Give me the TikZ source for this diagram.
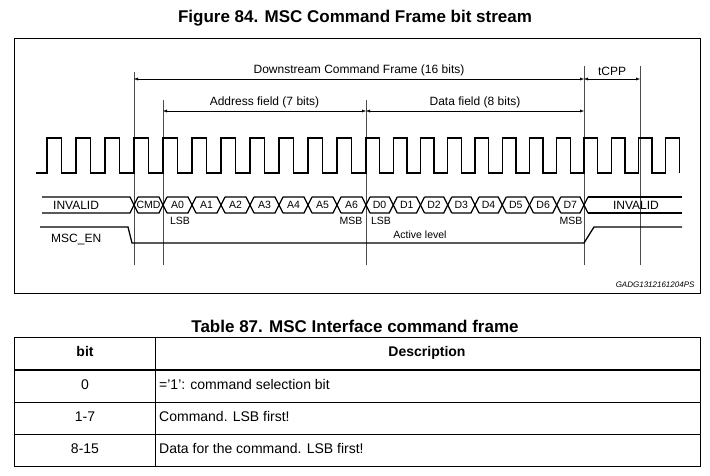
\documentclass[tikz,border=0pt]{standalone}
\usepackage{fontspec}
\setmainfont{Liberation Sans}
\usetikzlibrary{arrows.meta}

\tikzset{
  sig/.style={line width=1.3pt},
  dim/.style={thin,{Latex[length=4pt,width=3pt]}-{Latex[length=4pt,width=3pt]}},
  guide/.style={thin,black!70},
  lbl/.style={font=\fontsize{12}{14}\selectfont,inner sep=1pt},
  cell/.style={font=\fontsize{10.5}{12}\selectfont,inner sep=0pt},
  ttl/.style={font=\bfseries\fontsize{17}{20}\selectfont},
  tab/.style={font=\fontsize{14}{16}\selectfont,text height=10pt,text depth=3pt,inner sep=1pt},
  tabh/.style={tab,font=\bfseries\fontsize{14}{16}\selectfont},
  declare function={bx(\k)=(\k<=8)*(134+29*\k)+(\k>8)*(366+27.25*(\k-8));}
}

\begin{document}
\begin{tikzpicture}[x=1pt,y=-1pt]
  \useasboundingbox (0,0) rectangle (710,476);

  % figure frame and title
  \node[ttl] (figttl) at (355,18) {Figure 84. MSC Command Frame bit stream};
  \draw[thin] (14,38) rectangle (700,293);
  \node[font=\itshape\fontsize{8}{9}\selectfont,anchor=east] (gadg) at (698,285) {GADG1312161204PS};

  % guide lines
  \coordinate (gA) at (134,72);  \coordinate (gAb) at (134,265);
  \coordinate (gB) at (163,100); \coordinate (gBb) at (163,265);
  \coordinate (gC) at (366,100); \coordinate (gCb) at (366,265);
  \coordinate (gD) at (584,66);  \coordinate (gDb) at (584,265);
  \coordinate (gE) at (640,66);  \coordinate (gEb) at (640,265);
  \foreach \g in {A,B,C,D,E}
    \draw[guide] (g\g) -- (g\g b);

  % dimension arrows
  \coordinate (dA) at (134,79); \coordinate (dD) at (584,79); \coordinate (dE) at (640,79);
  \coordinate (aB) at (163,111); \coordinate (aC) at (366,111); \coordinate (aD) at (584,111);
  \draw[dim] (dA) -- node[lbl,above=2pt] (dsf) {Downstream Command Frame (16 bits)} (dD);
  \draw[dim] (dD) -- node[lbl,above=2pt] (tcpp) {tCPP} (dE);
  \draw[dim] (aB) -- node[lbl,above=2pt] (adr) {Address field (7 bits)} (aC);
  \draw[dim] (aC) -- node[lbl,above=2pt] (dat) {Data field (8 bits)} (aD);

  % clock
  \draw[sig] (36,173) foreach \k in {-3,...,19} {
    -- ({bx(\k)},173) -- ++(0,-35) -- ({(bx(\k)+bx(\k+1))/2},138) -- ++(0,35) };

  % bus
  \draw[sig] (42,197) -- (130,197) -- (138,213);
  \draw[sig] (42,213) -- (130,213) -- (138,197);
  \node[lbl,anchor=west] (invl) at (52,205) {INVALID};
  \foreach \k/\t in {0/CMD,1/A0,2/A1,3/A2,4/A3,5/A4,6/A5,7/A6,
                     8/D0,9/D1,10/D2,11/D3,12/D4,13/D5,14/D6,15/D7} {
    \draw[sig] ({bx(\k)+4},197) -- ({bx(\k+1)-4},197) -- ({bx(\k+1)+4},213);
    \draw[sig] ({bx(\k)+4},213) -- ({bx(\k+1)-4},213) -- ({bx(\k+1)+4},197);
    \node[cell] (b\k) at ({(bx(\k)+bx(\k+1))/2},205) {\t};
  }
  \draw[sig] (588,197) -- (682,197);
  \draw[sig] (588,213) -- (682,213);
  \node[lbl] (invr) at (636,205) {INVALID};
  \node[cell] (lsbA) at (180,221) {LSB};
  \node[cell] (msbA) at (351,221) {MSB};
  \node[cell] (lsbD) at (381,221) {LSB};
  \node[cell] (msbD) at (571,221) {MSB};

  % enable
  \draw[sig] (40,227) -- (128,227) -- (132,243) -- (584,243) -- (594,227) -- (682,227);
  \node[lbl,anchor=west] (en) at (50,240) {MSC\_EN};
  \node[cell] (act) at (420,235) {Active level};

  % table
  \node[ttl] (tabttl) at (355,326) {Table 87. MSC Interface command frame};
  \draw[thin] (14,337) rectangle (700,466);
  \draw[thin] (155,337) -- (155,466);
  \draw[line width=1.8pt] (14,370) -- (700,370);
  \draw[thin] (14,402) -- (700,402);
  \draw[thin] (14,434) -- (700,434);
  \node[tabh] (hbit) at (85,353) {bit};
  \node[tabh] (hdesc) at (427,353) {Description};
  \foreach \y/\b/\d in {386/0/{='1': command selection bit},
                       418/1-7/{Command. LSB first!},
                       450/8-15/{Data for the command. LSB first!}} {
    \node[tab] at (85,\y) {\b};
    \node[tab,anchor=west] at (158,\y) {\d};
  }
\end{tikzpicture}
\end{document}
